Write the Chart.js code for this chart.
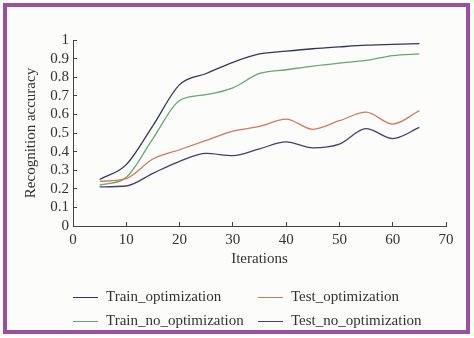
<!DOCTYPE html>
<html>
<head>
<meta charset="utf-8">
<script src="https://cdn.jsdelivr.net/npm/chart.js@4"></script>
<style>
  html, body { margin: 0; padding: 0; background: #ffffff; }
  #marco {
    position: absolute; left: 3px; top: 3px; width: 459px; height: 323px;
    border: 4px solid #9b4f9f; background: #fcfcfa;
  }
  #lienzo { position: absolute; left: 0; top: 0; }
  #leyenda {
    position: absolute; left: 0; top: 0; width: 474px; height: 338px;
    font-family: "Liberation Serif", "DejaVu Serif", serif; font-size: 15px; color: #333;
  }
  .item { position: absolute; height: 18px; line-height: 18px; white-space: nowrap; }
  .item span.linea { display: inline-block; width: 25px; height: 0; border-top-width: 1.5px; border-top-style: solid; vertical-align: middle; margin-right: 8px; }
</style>
</head>
<body>
<div id="marco"></div>
<canvas id="lienzo" width="474" height="338"></canvas>
<div id="leyenda"></div>
<script>
const iteraciones = [5, 10, 15, 20, 25, 30, 35, 40, 45, 50, 55, 60, 65];
const trainOpt = [0.25, 0.33, 0.54, 0.76, 0.82, 0.88, 0.925, 0.94, 0.953, 0.963, 0.972, 0.977, 0.98];
const testOpt = [0.24, 0.255, 0.36, 0.41, 0.46, 0.51, 0.535, 0.575, 0.52, 0.566, 0.612, 0.548, 0.62];
const trainNoOpt = [0.22, 0.262, 0.47, 0.675, 0.706, 0.743, 0.82, 0.84, 0.86, 0.876, 0.89, 0.916, 0.925];
const testNoOpt = [0.21, 0.215, 0.283, 0.348, 0.39, 0.378, 0.415, 0.452, 0.42, 0.44, 0.523, 0.47, 0.53];
const etiquetas = ["Train_optimization", "Test_optimization", "Train_no_optimization", "Test_no_optimization"];
const colores = ["#34355f", "#d47a5c", "#62a96f", "#4a3b72"];

const FUENTE = "'Liberation Serif', 'DejaVu Serif', serif";
const TEXTO = "#333333";

function serie(valores) {
  return iteraciones.map((x, i) => ({ x: x, y: valores[i] }));
}

const series = [trainOpt, testOpt, trainNoOpt, testNoOpt];
const datasets = series.map((v, i) => ({
  label: etiquetas[i],
  data: serie(v),
  borderColor: colores[i],
  borderWidth: 1.3,
  pointRadius: 0,
  fill: false,
  cubicInterpolationMode: "monotone",
}));

const grafico = new Chart(document.getElementById("lienzo"), {
  type: "line",
  data: { datasets: datasets },
  options: {
    responsive: false,
    animation: false,
    layout: { padding: { left: 0, right: 28, top: 40, bottom: 70 } },
    scales: {
      x: {
        type: "linear",
        min: 0, max: 70,
        afterFit: (s) => { s.height = 42; },
        border: { display: true, color: "#444", width: 1 },
        grid: { display: true, drawOnChartArea: false, tickLength: -4, color: "#444" },
        ticks: { stepSize: 10, autoSkip: false, color: TEXTO, padding: 9, font: { family: FUENTE, size: 15 } },
        title: { display: true, text: "Iterations", color: TEXTO, padding: 0, font: { family: FUENTE, size: 15 } },
      },
      y: {
        min: 0, max: 1,
        afterFit: (s) => { s.width = 73; },
        border: { display: true, color: "#444", width: 1 },
        grid: { display: true, drawOnChartArea: false, tickLength: -4, color: "#444" },
        ticks: {
          stepSize: 0.1, autoSkip: false, color: TEXTO, padding: 8,
          font: { family: FUENTE, size: 15 },
          callback: (v) => String(Math.round(v * 10) / 10), // "1" y no "1.0"
        },
        title: { display: true, text: "Recognition accuracy", color: TEXTO, padding: { top: 22, bottom: 0 }, font: { family: FUENTE, size: 15 } },
      },
    },
    plugins: {
      legend: { display: false },
      tooltip: { enabled: false },
    },
  },
});

// leyenda en dos columnas, como en la figura
const $leyenda = document.getElementById("leyenda");
const posiciones = [[73, 287], [258, 287], [73, 311], [258, 311]];
grafico.data.datasets.forEach((ds, i) => {
  const item = document.createElement("div");
  item.className = "item";
  item.style.left = posiciones[i][0] + "px";
  item.style.top = posiciones[i][1] + "px";
  const linea = document.createElement("span");
  linea.className = "linea";
  linea.style.borderTopColor = ds.borderColor;
  item.appendChild(linea);
  item.appendChild(document.createTextNode(ds.label));
  $leyenda.appendChild(item);
});
</script>
</body>
</html>
